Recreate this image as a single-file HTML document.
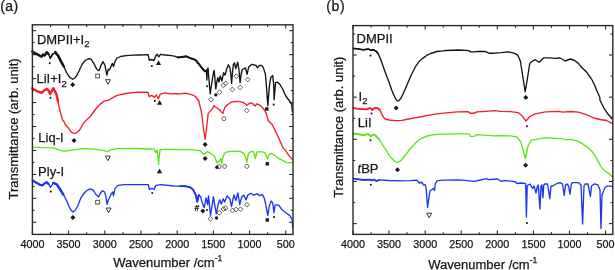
<!DOCTYPE html><html><head><meta charset="utf-8"><style>
html,body{margin:0;padding:0;background:#fff;width:615px;height:270px;overflow:hidden}
svg{display:block;will-change:transform}
text{font-family:"Liberation Sans",sans-serif;fill:#161616;stroke:#161616;stroke-width:0.25px}
</style></head><body>
<svg width="615" height="270" viewBox="0 0 615 270">
<line x1="285.76" y1="234.40" x2="285.76" y2="230.60" stroke="#2a2a2a" stroke-width="1.1"/>
<line x1="285.76" y1="24.80" x2="285.76" y2="28.60" stroke="#2a2a2a" stroke-width="1.1"/>
<line x1="267.66" y1="234.40" x2="267.66" y2="232.20" stroke="#2a2a2a" stroke-width="1.1"/>
<line x1="267.66" y1="24.80" x2="267.66" y2="27.00" stroke="#2a2a2a" stroke-width="1.1"/>
<line x1="249.57" y1="234.40" x2="249.57" y2="230.60" stroke="#2a2a2a" stroke-width="1.1"/>
<line x1="249.57" y1="24.80" x2="249.57" y2="28.60" stroke="#2a2a2a" stroke-width="1.1"/>
<line x1="231.47" y1="234.40" x2="231.47" y2="232.20" stroke="#2a2a2a" stroke-width="1.1"/>
<line x1="231.47" y1="24.80" x2="231.47" y2="27.00" stroke="#2a2a2a" stroke-width="1.1"/>
<line x1="213.37" y1="234.40" x2="213.37" y2="230.60" stroke="#2a2a2a" stroke-width="1.1"/>
<line x1="213.37" y1="24.80" x2="213.37" y2="28.60" stroke="#2a2a2a" stroke-width="1.1"/>
<line x1="195.28" y1="234.40" x2="195.28" y2="232.20" stroke="#2a2a2a" stroke-width="1.1"/>
<line x1="195.28" y1="24.80" x2="195.28" y2="27.00" stroke="#2a2a2a" stroke-width="1.1"/>
<line x1="177.18" y1="234.40" x2="177.18" y2="230.60" stroke="#2a2a2a" stroke-width="1.1"/>
<line x1="177.18" y1="24.80" x2="177.18" y2="28.60" stroke="#2a2a2a" stroke-width="1.1"/>
<line x1="159.08" y1="234.40" x2="159.08" y2="232.20" stroke="#2a2a2a" stroke-width="1.1"/>
<line x1="159.08" y1="24.80" x2="159.08" y2="27.00" stroke="#2a2a2a" stroke-width="1.1"/>
<line x1="140.98" y1="234.40" x2="140.98" y2="230.60" stroke="#2a2a2a" stroke-width="1.1"/>
<line x1="140.98" y1="24.80" x2="140.98" y2="28.60" stroke="#2a2a2a" stroke-width="1.1"/>
<line x1="122.89" y1="234.40" x2="122.89" y2="232.20" stroke="#2a2a2a" stroke-width="1.1"/>
<line x1="122.89" y1="24.80" x2="122.89" y2="27.00" stroke="#2a2a2a" stroke-width="1.1"/>
<line x1="104.79" y1="234.40" x2="104.79" y2="230.60" stroke="#2a2a2a" stroke-width="1.1"/>
<line x1="104.79" y1="24.80" x2="104.79" y2="28.60" stroke="#2a2a2a" stroke-width="1.1"/>
<line x1="86.69" y1="234.40" x2="86.69" y2="232.20" stroke="#2a2a2a" stroke-width="1.1"/>
<line x1="86.69" y1="24.80" x2="86.69" y2="27.00" stroke="#2a2a2a" stroke-width="1.1"/>
<line x1="68.59" y1="234.40" x2="68.59" y2="230.60" stroke="#2a2a2a" stroke-width="1.1"/>
<line x1="68.59" y1="24.80" x2="68.59" y2="28.60" stroke="#2a2a2a" stroke-width="1.1"/>
<line x1="50.50" y1="234.40" x2="50.50" y2="232.20" stroke="#2a2a2a" stroke-width="1.1"/>
<line x1="50.50" y1="24.80" x2="50.50" y2="27.00" stroke="#2a2a2a" stroke-width="1.1"/>
<line x1="32.40" y1="234.40" x2="32.40" y2="230.60" stroke="#2a2a2a" stroke-width="1.1"/>
<line x1="32.40" y1="24.80" x2="32.40" y2="28.60" stroke="#2a2a2a" stroke-width="1.1"/>
<line x1="32.40" y1="30.70" x2="36.20" y2="30.70" stroke="#2a2a2a" stroke-width="1.1"/>
<line x1="293.00" y1="30.70" x2="289.20" y2="30.70" stroke="#2a2a2a" stroke-width="1.1"/>
<line x1="32.40" y1="54.65" x2="36.20" y2="54.65" stroke="#2a2a2a" stroke-width="1.1"/>
<line x1="293.00" y1="54.65" x2="289.20" y2="54.65" stroke="#2a2a2a" stroke-width="1.1"/>
<line x1="32.40" y1="78.60" x2="36.20" y2="78.60" stroke="#2a2a2a" stroke-width="1.1"/>
<line x1="293.00" y1="78.60" x2="289.20" y2="78.60" stroke="#2a2a2a" stroke-width="1.1"/>
<line x1="32.40" y1="102.55" x2="36.20" y2="102.55" stroke="#2a2a2a" stroke-width="1.1"/>
<line x1="293.00" y1="102.55" x2="289.20" y2="102.55" stroke="#2a2a2a" stroke-width="1.1"/>
<line x1="32.40" y1="126.50" x2="36.20" y2="126.50" stroke="#2a2a2a" stroke-width="1.1"/>
<line x1="293.00" y1="126.50" x2="289.20" y2="126.50" stroke="#2a2a2a" stroke-width="1.1"/>
<line x1="32.40" y1="150.45" x2="36.20" y2="150.45" stroke="#2a2a2a" stroke-width="1.1"/>
<line x1="293.00" y1="150.45" x2="289.20" y2="150.45" stroke="#2a2a2a" stroke-width="1.1"/>
<line x1="32.40" y1="174.40" x2="36.20" y2="174.40" stroke="#2a2a2a" stroke-width="1.1"/>
<line x1="293.00" y1="174.40" x2="289.20" y2="174.40" stroke="#2a2a2a" stroke-width="1.1"/>
<line x1="32.40" y1="198.35" x2="36.20" y2="198.35" stroke="#2a2a2a" stroke-width="1.1"/>
<line x1="293.00" y1="198.35" x2="289.20" y2="198.35" stroke="#2a2a2a" stroke-width="1.1"/>
<line x1="32.40" y1="222.30" x2="36.20" y2="222.30" stroke="#2a2a2a" stroke-width="1.1"/>
<line x1="293.00" y1="222.30" x2="289.20" y2="222.30" stroke="#2a2a2a" stroke-width="1.1"/>
<line x1="32.40" y1="42.67" x2="34.60" y2="42.67" stroke="#2a2a2a" stroke-width="1.1"/>
<line x1="293.00" y1="42.67" x2="290.80" y2="42.67" stroke="#2a2a2a" stroke-width="1.1"/>
<line x1="32.40" y1="66.62" x2="34.60" y2="66.62" stroke="#2a2a2a" stroke-width="1.1"/>
<line x1="293.00" y1="66.62" x2="290.80" y2="66.62" stroke="#2a2a2a" stroke-width="1.1"/>
<line x1="32.40" y1="90.57" x2="34.60" y2="90.57" stroke="#2a2a2a" stroke-width="1.1"/>
<line x1="293.00" y1="90.57" x2="290.80" y2="90.57" stroke="#2a2a2a" stroke-width="1.1"/>
<line x1="32.40" y1="114.52" x2="34.60" y2="114.52" stroke="#2a2a2a" stroke-width="1.1"/>
<line x1="293.00" y1="114.52" x2="290.80" y2="114.52" stroke="#2a2a2a" stroke-width="1.1"/>
<line x1="32.40" y1="138.47" x2="34.60" y2="138.47" stroke="#2a2a2a" stroke-width="1.1"/>
<line x1="293.00" y1="138.47" x2="290.80" y2="138.47" stroke="#2a2a2a" stroke-width="1.1"/>
<line x1="32.40" y1="162.43" x2="34.60" y2="162.43" stroke="#2a2a2a" stroke-width="1.1"/>
<line x1="293.00" y1="162.43" x2="290.80" y2="162.43" stroke="#2a2a2a" stroke-width="1.1"/>
<line x1="32.40" y1="186.38" x2="34.60" y2="186.38" stroke="#2a2a2a" stroke-width="1.1"/>
<line x1="293.00" y1="186.38" x2="290.80" y2="186.38" stroke="#2a2a2a" stroke-width="1.1"/>
<line x1="32.40" y1="210.32" x2="34.60" y2="210.32" stroke="#2a2a2a" stroke-width="1.1"/>
<line x1="293.00" y1="210.32" x2="290.80" y2="210.32" stroke="#2a2a2a" stroke-width="1.1"/>
<line x1="605.58" y1="234.40" x2="605.58" y2="230.60" stroke="#2a2a2a" stroke-width="1.1"/>
<line x1="605.58" y1="25.60" x2="605.58" y2="29.40" stroke="#2a2a2a" stroke-width="1.1"/>
<line x1="587.54" y1="234.40" x2="587.54" y2="232.20" stroke="#2a2a2a" stroke-width="1.1"/>
<line x1="587.54" y1="25.60" x2="587.54" y2="27.80" stroke="#2a2a2a" stroke-width="1.1"/>
<line x1="569.50" y1="234.40" x2="569.50" y2="230.60" stroke="#2a2a2a" stroke-width="1.1"/>
<line x1="569.50" y1="25.60" x2="569.50" y2="29.40" stroke="#2a2a2a" stroke-width="1.1"/>
<line x1="551.46" y1="234.40" x2="551.46" y2="232.20" stroke="#2a2a2a" stroke-width="1.1"/>
<line x1="551.46" y1="25.60" x2="551.46" y2="27.80" stroke="#2a2a2a" stroke-width="1.1"/>
<line x1="533.42" y1="234.40" x2="533.42" y2="230.60" stroke="#2a2a2a" stroke-width="1.1"/>
<line x1="533.42" y1="25.60" x2="533.42" y2="29.40" stroke="#2a2a2a" stroke-width="1.1"/>
<line x1="515.38" y1="234.40" x2="515.38" y2="232.20" stroke="#2a2a2a" stroke-width="1.1"/>
<line x1="515.38" y1="25.60" x2="515.38" y2="27.80" stroke="#2a2a2a" stroke-width="1.1"/>
<line x1="497.33" y1="234.40" x2="497.33" y2="230.60" stroke="#2a2a2a" stroke-width="1.1"/>
<line x1="497.33" y1="25.60" x2="497.33" y2="29.40" stroke="#2a2a2a" stroke-width="1.1"/>
<line x1="479.29" y1="234.40" x2="479.29" y2="232.20" stroke="#2a2a2a" stroke-width="1.1"/>
<line x1="479.29" y1="25.60" x2="479.29" y2="27.80" stroke="#2a2a2a" stroke-width="1.1"/>
<line x1="461.25" y1="234.40" x2="461.25" y2="230.60" stroke="#2a2a2a" stroke-width="1.1"/>
<line x1="461.25" y1="25.60" x2="461.25" y2="29.40" stroke="#2a2a2a" stroke-width="1.1"/>
<line x1="443.21" y1="234.40" x2="443.21" y2="232.20" stroke="#2a2a2a" stroke-width="1.1"/>
<line x1="443.21" y1="25.60" x2="443.21" y2="27.80" stroke="#2a2a2a" stroke-width="1.1"/>
<line x1="425.17" y1="234.40" x2="425.17" y2="230.60" stroke="#2a2a2a" stroke-width="1.1"/>
<line x1="425.17" y1="25.60" x2="425.17" y2="29.40" stroke="#2a2a2a" stroke-width="1.1"/>
<line x1="407.12" y1="234.40" x2="407.12" y2="232.20" stroke="#2a2a2a" stroke-width="1.1"/>
<line x1="407.12" y1="25.60" x2="407.12" y2="27.80" stroke="#2a2a2a" stroke-width="1.1"/>
<line x1="389.08" y1="234.40" x2="389.08" y2="230.60" stroke="#2a2a2a" stroke-width="1.1"/>
<line x1="389.08" y1="25.60" x2="389.08" y2="29.40" stroke="#2a2a2a" stroke-width="1.1"/>
<line x1="371.04" y1="234.40" x2="371.04" y2="232.20" stroke="#2a2a2a" stroke-width="1.1"/>
<line x1="371.04" y1="25.60" x2="371.04" y2="27.80" stroke="#2a2a2a" stroke-width="1.1"/>
<line x1="353.00" y1="234.40" x2="353.00" y2="230.60" stroke="#2a2a2a" stroke-width="1.1"/>
<line x1="353.00" y1="25.60" x2="353.00" y2="29.40" stroke="#2a2a2a" stroke-width="1.1"/>
<line x1="353.00" y1="55.00" x2="356.80" y2="55.00" stroke="#2a2a2a" stroke-width="1.1"/>
<line x1="612.80" y1="55.00" x2="609.00" y2="55.00" stroke="#2a2a2a" stroke-width="1.1"/>
<line x1="353.00" y1="97.15" x2="356.80" y2="97.15" stroke="#2a2a2a" stroke-width="1.1"/>
<line x1="612.80" y1="97.15" x2="609.00" y2="97.15" stroke="#2a2a2a" stroke-width="1.1"/>
<line x1="353.00" y1="139.30" x2="356.80" y2="139.30" stroke="#2a2a2a" stroke-width="1.1"/>
<line x1="612.80" y1="139.30" x2="609.00" y2="139.30" stroke="#2a2a2a" stroke-width="1.1"/>
<line x1="353.00" y1="181.45" x2="356.80" y2="181.45" stroke="#2a2a2a" stroke-width="1.1"/>
<line x1="612.80" y1="181.45" x2="609.00" y2="181.45" stroke="#2a2a2a" stroke-width="1.1"/>
<line x1="353.00" y1="223.60" x2="356.80" y2="223.60" stroke="#2a2a2a" stroke-width="1.1"/>
<line x1="612.80" y1="223.60" x2="609.00" y2="223.60" stroke="#2a2a2a" stroke-width="1.1"/>
<line x1="353.00" y1="34.00" x2="355.20" y2="34.00" stroke="#2a2a2a" stroke-width="1.1"/>
<line x1="612.80" y1="34.00" x2="610.60" y2="34.00" stroke="#2a2a2a" stroke-width="1.1"/>
<line x1="353.00" y1="76.15" x2="355.20" y2="76.15" stroke="#2a2a2a" stroke-width="1.1"/>
<line x1="612.80" y1="76.15" x2="610.60" y2="76.15" stroke="#2a2a2a" stroke-width="1.1"/>
<line x1="353.00" y1="118.30" x2="355.20" y2="118.30" stroke="#2a2a2a" stroke-width="1.1"/>
<line x1="612.80" y1="118.30" x2="610.60" y2="118.30" stroke="#2a2a2a" stroke-width="1.1"/>
<line x1="353.00" y1="160.45" x2="355.20" y2="160.45" stroke="#2a2a2a" stroke-width="1.1"/>
<line x1="612.80" y1="160.45" x2="610.60" y2="160.45" stroke="#2a2a2a" stroke-width="1.1"/>
<line x1="353.00" y1="202.60" x2="355.20" y2="202.60" stroke="#2a2a2a" stroke-width="1.1"/>
<line x1="612.80" y1="202.60" x2="610.60" y2="202.60" stroke="#2a2a2a" stroke-width="1.1"/>
<path d="M32.30,51.50 L35.20,53.50 L37.00,54.00 L39.10,55.40 L41.70,56.70 L43.00,54.50 L44.50,55.50 L46.90,52.20 L48.50,54.00 L50.20,58.00 L52.80,54.10 L55.40,52.20 L56.50,54.00 L58.00,55.40 L60.60,60.60 L63.80,66.50 L66.40,72.30 L68.50,75.50 L70.30,77.80 L72.70,79.30 L74.80,78.00 L76.80,75.50 L79.00,71.00 L82.00,64.50 L84.00,61.80 L85.90,60.00 L88.00,59.00 L89.80,58.70 L91.10,59.30 L93.70,63.20 L96.30,68.40 L98.00,70.40 L99.10,70.60 L101.00,65.40 L103.00,61.50 L104.90,65.40 L106.90,75.10 L108.20,69.30 L109.50,69.90 L111.40,65.40 L112.40,63.40 L113.50,66.50 L114.80,62.00 L116.90,58.20 L118.50,57.50 L120.80,56.30 L123.70,56.00 L126.00,55.60 L132.50,55.20 L139.00,55.00 L148.10,54.70 L149.20,60.20 L151.40,59.50 L154.00,60.50 L155.90,55.60 L157.20,54.30 L158.80,56.90 L160.50,54.30 L165.00,55.00 L171.50,55.60 L175.20,56.30 L177.80,57.40 L181.70,57.00 L186.30,56.30 L190.80,58.30 L194.70,59.60 L196.00,60.50 L198.00,62.80 L200.00,65.50 L203.10,69.50 L204.80,71.20 L206.30,70.00 L206.90,80.00 L207.40,70.00 L208.00,67.90 L209.00,80.00 L210.20,94.00 L211.00,88.00 L212.10,81.00 L213.20,74.00 L214.20,70.40 L215.00,80.00 L215.80,89.00 L216.80,82.00 L217.80,77.70 L219.00,82.00 L220.20,76.00 L221.90,81.00 L223.50,72.80 L225.00,75.00 L226.80,68.70 L228.40,64.70 L230.00,68.00 L231.00,76.00 L231.60,83.40 L232.50,72.00 L233.30,64.70 L234.60,63.00 L235.70,68.70 L237.70,62.20 L239.00,70.00 L240.10,82.60 L241.20,74.00 L242.20,69.50 L245.50,67.90 L247.10,74.40 L248.70,67.10 L252.00,64.30 L256.10,65.50 L257.40,67.90 L259.30,65.50 L261.80,65.50 L263.40,67.90 L265.40,74.40 L266.30,84.60 L267.80,105.60 L269.30,86.60 L270.70,77.80 L272.70,75.40 L273.70,84.60 L274.10,99.80 L275.60,82.70 L277.60,82.20 L280.00,84.60 L282.90,89.50 L283.90,92.00 L285.90,96.00 L287.80,98.80 L290.00,101.50 L291.70,104.60 L292.50,112.00" fill="none" stroke="#141414" stroke-width="1.35" stroke-linejoin="round" stroke-linecap="round"/>
<path d="M32.30,51.50 L35.20,53.50 L37.00,54.00 L39.10,55.40 L41.70,56.70 L43.00,54.50 L44.50,55.50 L46.90,52.20 L48.50,54.00" fill="none" stroke="#141414" stroke-width="2.4" stroke-linejoin="round" stroke-linecap="round"/>
<path d="M50.20,58.00 L52.80,54.10" fill="none" stroke="#141414" stroke-width="1.8" stroke-linejoin="round" stroke-linecap="round"/>
<path d="M55.40,52.20 L56.50,54.00 L58.00,55.40 L60.60,60.60 L63.80,66.50" fill="none" stroke="#141414" stroke-width="2.6" stroke-linejoin="round" stroke-linecap="round"/>
<path d="M177.80,57.40 L181.70,57.00 L186.30,56.30 L190.80,58.30 L194.70,59.60 L196.00,60.50 L198.00,62.80 L200.00,65.50 L203.10,69.50 L204.80,71.20" fill="none" stroke="#141414" stroke-width="2.0" stroke-linejoin="round" stroke-linecap="round"/>
<path d="M32.30,88.20 L34.00,89.50 L36.50,90.80 L39.00,92.00 L41.70,92.80 L44.00,90.50 L46.90,88.90 L48.50,90.50 L50.20,94.00 L53.40,88.20 L56.00,93.40 L56.70,95.00 L58.00,101.50 L59.90,110.60 L62.50,119.70 L63.80,121.30 L65.10,124.30 L67.70,127.20 L69.50,129.60 L71.60,132.40 L73.50,133.20 L74.90,133.30 L77.00,132.30 L79.40,130.40 L81.00,127.50 L82.50,124.70 L85.90,120.40 L87.20,119.50 L89.80,117.10 L92.50,113.50 L95.00,110.00 L97.50,107.00 L100.20,104.10 L103.90,101.20 L105.40,100.80 L108.90,100.20 L112.80,97.60 L117.20,95.30 L125.80,93.50 L137.50,92.20 L147.90,92.20 L149.20,96.70 L151.80,95.40 L154.40,97.40 L156.40,94.80 L158.30,98.70 L160.30,94.10 L165.50,92.80 L170.00,93.90 L177.80,93.60 L180.00,93.90 L185.90,93.20 L191.70,94.60 L194.60,96.00 L196.60,97.60 L197.60,99.90 L198.40,99.70 L199.50,104.00 L201.30,111.40 L202.50,120.00 L203.60,129.60 L205.20,139.50 L206.50,128.00 L207.50,120.00 L208.20,113.40 L210.10,111.40 L212.20,109.00 L214.00,105.60 L215.50,107.00 L217.90,108.50 L220.00,110.50 L222.80,113.40 L224.80,107.50 L227.80,104.50 L230.70,102.50 L233.50,101.70 L236.60,101.50 L240.00,101.60 L243.30,102.60 L247.20,105.30 L250.10,102.80 L252.50,103.50 L255.00,106.00 L257.00,103.80 L261.00,105.80 L264.40,110.00 L266.30,113.90 L268.30,120.70 L272.20,124.60 L275.10,130.50 L277.60,135.50 L279.00,138.80 L282.90,147.60 L285.90,151.00 L288.80,155.40 L292.50,159.60" fill="none" stroke="#f81c26" stroke-width="1.35" stroke-linejoin="round" stroke-linecap="round"/>
<path d="M32.30,88.20 L34.00,89.50 L36.50,90.80 L39.00,92.00 L41.70,92.80 L44.00,90.50 L46.90,88.90 L48.50,90.50 L50.20,94.00 L53.40,88.20 L56.00,93.40 L56.70,95.00 L58.00,101.50" fill="none" stroke="#f81c26" stroke-width="2.4" stroke-linejoin="round" stroke-linecap="round"/>
<path d="M32.60,147.10 L43.00,147.60 L53.40,147.80 L57.30,149.30 L60.00,150.30 L63.80,151.00 L67.00,150.80 L71.60,150.20 L75.50,149.60 L82.00,148.60 L88.50,148.90 L95.00,149.20 L97.60,149.60 L101.00,150.20 L104.10,150.40 L105.80,151.20 L107.60,151.60 L109.30,150.60 L111.30,149.60 L117.20,148.60 L132.50,148.50 L152.00,149.00 L154.20,149.20 L155.70,152.60 L157.10,150.40 L158.00,156.00 L158.60,164.40 L159.30,156.00 L160.10,149.60 L165.00,149.30 L170.00,149.40 L177.80,149.50 L185.00,149.60 L189.50,149.70 L199.90,150.60 L203.80,154.50 L207.70,151.60 L210.30,153.20 L214.20,155.80 L215.50,159.00 L217.20,163.10 L219.40,161.00 L220.80,158.50 L221.60,163.80 L222.60,158.00 L224.60,153.20 L227.00,152.00 L231.10,151.30 L240.00,151.30 L243.90,153.30 L245.50,157.00 L246.80,162.30 L248.00,156.00 L248.80,152.80 L251.70,151.30 L253.70,151.80 L254.60,155.00 L255.40,158.70 L256.30,154.50 L257.10,151.80 L261.50,151.80 L264.40,152.30 L266.00,155.00 L267.60,159.10 L269.30,154.30 L271.20,153.30 L275.10,155.70 L279.00,158.70 L282.90,160.60 L286.80,162.60 L292.50,162.60" fill="none" stroke="#5ee414" stroke-width="1.35" stroke-linejoin="round" stroke-linecap="round"/>
<path d="M32.60,180.50 L35.00,182.00 L37.80,183.50 L40.00,184.70 L42.40,185.40 L44.50,183.50 L46.90,182.20 L48.50,184.00 L50.50,187.40 L53.40,182.90 L55.00,183.60 L56.70,184.30 L59.90,189.00 L63.50,194.80 L66.20,199.80 L67.70,203.00 L69.00,206.50 L71.00,210.00 L72.90,212.00 L75.00,210.50 L77.50,206.50 L80.00,200.00 L80.70,198.40 L83.00,194.70 L85.90,191.30 L88.50,189.50 L91.10,189.00 L93.70,190.60 L95.50,194.00 L98.70,196.90 L100.50,193.00 L102.40,190.60 L104.60,192.00 L105.80,196.00 L107.10,204.30 L108.30,200.00 L109.80,197.20 L111.20,194.00 L112.80,192.00 L113.50,195.80 L115.00,188.40 L117.90,185.40 L124.60,184.70 L148.30,184.60 L149.40,189.50 L152.00,188.40 L154.20,189.50 L155.70,185.40 L161.60,184.70 L173.40,186.00 L180.00,186.10 L185.60,186.20 L190.80,187.60 L192.90,189.50 L195.40,193.90 L197.30,201.70 L198.80,194.90 L200.70,196.80 L202.20,202.70 L204.10,207.60 L206.10,197.80 L207.60,204.60 L208.50,195.90 L210.50,215.50 L213.40,196.80 L214.90,205.60 L216.30,213.90 L218.30,203.70 L219.80,199.80 L221.20,204.00 L223.20,198.80 L224.60,202.00 L227.10,195.90 L230.00,199.00 L231.50,206.60 L233.90,194.90 L235.90,200.50 L237.80,192.90 L239.80,204.60 L240.80,200.00 L242.00,196.60 L243.90,195.10 L246.00,200.00 L247.80,195.10 L250.70,193.20 L253.70,195.10 L257.10,193.70 L259.50,195.60 L262.40,194.60 L264.40,198.50 L265.90,205.40 L267.80,215.60 L269.30,205.90 L271.20,201.00 L272.70,203.00 L274.00,212.70 L275.10,204.90 L277.10,204.90 L279.00,205.40 L282.00,209.80 L285.90,212.70 L289.80,215.60 L292.20,219.50 L292.70,227.70" fill="none" stroke="#1c36f5" stroke-width="1.35" stroke-linejoin="round" stroke-linecap="round"/>
<path d="M32.60,180.50 L35.00,182.00 L37.80,183.50 L40.00,184.70 L42.40,185.40 L44.50,183.50 L46.90,182.20 L48.50,184.00" fill="none" stroke="#1c36f5" stroke-width="2.2" stroke-linejoin="round" stroke-linecap="round"/>
<path d="M53.40,182.90 L55.00,183.60 L56.70,184.30 L59.90,189.00 L63.50,194.80" fill="none" stroke="#1c36f5" stroke-width="2.4" stroke-linejoin="round" stroke-linecap="round"/>
<path d="M180.00,186.10 L185.60,186.20 L190.80,187.60 L192.90,189.50 L195.40,193.90 L197.30,201.70 L198.80,194.90" fill="none" stroke="#1c36f5" stroke-width="1.9" stroke-linejoin="round" stroke-linecap="round"/>
<path d="M353.30,48.50 L357.80,48.80 L363.00,49.80 L368.20,49.10 L370.80,50.10 L373.40,49.80 L376.00,51.10 L378.00,53.50 L380.20,58.10 L383.00,66.00 L386.70,76.30 L389.50,83.50 L391.90,90.50 L394.00,95.50 L396.00,99.50 L397.50,100.90 L399.00,100.60 L400.90,98.30 L403.50,93.00 L407.40,84.00 L411.00,75.50 L415.20,67.20 L419.00,61.50 L423.00,58.10 L427.00,55.20 L430.70,53.50 L436.90,51.50 L442.90,50.90 L446.00,50.50 L459.00,50.00 L468.80,50.60 L470.70,51.90 L474.60,51.90 L477.20,51.50 L485.00,51.30 L488.90,53.20 L494.10,53.20 L501.50,52.60 L508.00,51.90 L513.20,52.90 L517.80,55.20 L520.40,61.00 L521.00,65.00 L523.00,78.00 L525.20,91.70 L527.50,78.00 L529.50,65.00 L530.00,63.00 L532.70,61.00 L535.30,59.70 L539.20,62.30 L543.80,57.80 L549.60,57.80 L554.80,58.40 L559.90,58.00 L562.80,59.50 L565.20,61.00 L567.70,60.00 L570.60,59.00 L574.50,60.50 L578.40,63.40 L580.40,65.90 L586.20,71.70 L591.10,78.50 L592.10,80.00 L595.00,86.00 L596.00,88.80 L599.90,97.60 L599.90,100.00 L603.80,107.80 L607.70,113.70 L612.10,118.50" fill="none" stroke="#141414" stroke-width="1.35" stroke-linejoin="round" stroke-linecap="round"/>
<path d="M353.30,48.50 L357.80,48.80 L363.00,49.80 L368.20,49.10 L370.80,50.10 L373.40,49.80 L376.00,51.10 L378.00,53.50" fill="none" stroke="#141414" stroke-width="1.6" stroke-linejoin="round" stroke-linecap="round"/>
<path d="M353.30,108.00 L357.00,108.70 L360.40,109.00 L366.90,109.30 L370.20,108.00 L372.10,110.00 L374.70,108.00 L377.30,108.00 L379.90,110.00 L382.50,115.80 L385.10,119.00 L389.00,120.00 L395.50,120.70 L402.00,120.40 L408.50,119.00 L415.00,117.80 L422.80,116.50 L425.00,115.80 L435.40,114.20 L445.80,112.90 L457.50,111.90 L467.90,111.60 L470.30,113.20 L474.40,113.20 L477.00,111.90 L486.10,111.30 L495.20,110.60 L500.00,111.30 L510.40,111.60 L518.20,112.60 L522.10,115.80 L526.00,121.00 L529.90,116.50 L535.10,113.90 L545.50,111.90 L558.50,111.30 L562.80,112.20 L570.60,111.50 L578.40,112.20 L586.20,114.60 L594.00,118.00 L599.90,119.50 L606.70,120.50 L612.10,123.40" fill="none" stroke="#f81c26" stroke-width="1.35" stroke-linejoin="round" stroke-linecap="round"/>
<path d="M353.30,108.00 L357.00,108.70 L360.40,109.00 L366.90,109.30 L370.20,108.00 L372.10,110.00 L374.70,108.00 L377.30,108.00 L379.90,110.00" fill="none" stroke="#f81c26" stroke-width="1.7" stroke-linejoin="round" stroke-linecap="round"/>
<path d="M353.30,133.50 L357.80,134.10 L363.00,135.10 L368.20,134.10 L370.80,136.10 L373.40,134.50 L375.20,135.20 L378.90,138.90 L382.00,144.00 L385.40,149.10 L390.00,156.50 L393.00,159.80 L395.00,161.50 L397.00,162.50 L399.50,161.70 L401.50,160.00 L404.50,156.00 L406.70,153.70 L410.00,149.00 L414.10,144.40 L417.50,141.00 L421.50,138.30 L426.00,136.50 L430.80,135.20 L437.00,134.40 L451.00,133.90 L469.20,133.90 L470.50,136.30 L474.40,136.30 L477.00,134.60 L487.40,135.30 L493.90,135.90 L500.00,135.60 L510.40,135.90 L516.90,136.90 L520.80,142.10 L523.40,151.20 L525.40,158.70 L528.00,146.00 L531.20,140.20 L539.00,138.90 L545.50,137.60 L555.00,138.30 L561.80,138.60 L565.70,139.80 L570.60,139.30 L576.50,140.70 L582.30,143.70 L588.20,147.60 L592.10,151.50 L595.00,155.90 L597.90,160.70 L600.90,166.60 L604.80,171.00 L608.70,173.40 L612.10,176.50" fill="none" stroke="#5ee414" stroke-width="1.35" stroke-linejoin="round" stroke-linecap="round"/>
<path d="M353.30,133.50 L357.80,134.10 L363.00,135.10 L368.20,134.10 L370.80,136.10 L373.40,134.50 L375.20,135.20 L378.90,138.90" fill="none" stroke="#5ee414" stroke-width="1.7" stroke-linejoin="round" stroke-linecap="round"/>
<path d="M353.30,178.60 L363.00,179.90 L369.50,179.60 L372.10,180.50 L374.10,179.60 L376.70,181.20 L378.60,179.90 L389.00,180.50 L402.00,180.90 L410.00,180.70 L416.80,180.20 L418.80,182.20 L419.80,183.20 L421.70,182.20 L423.70,185.10 L425.10,184.60 L426.10,188.00 L427.60,207.50 L429.30,195.00 L430.00,191.00 L432.00,189.50 L433.40,188.50 L434.40,190.50 L435.40,183.70 L437.30,180.70 L444.10,180.20 L458.80,179.80 L465.00,180.30 L474.10,181.30 L480.60,180.00 L486.50,178.70 L488.40,179.60 L497.50,179.00 L501.40,181.30 L504.00,180.60 L513.10,181.30 L515.70,182.00 L517.00,183.50 L520.90,183.00 L524.80,183.30 L525.70,183.80 L526.40,217.10 L527.20,186.00 L528.00,185.00 L530.00,184.00 L532.60,188.40 L534.00,186.00 L536.00,193.00 L537.20,187.00 L538.30,185.00 L539.90,209.00 L541.00,186.00 L542.00,185.00 L542.90,197.60 L543.80,185.00 L545.20,183.80 L547.50,184.00 L549.80,198.70 L551.00,186.00 L553.00,186.00 L554.40,185.00 L557.00,183.50 L560.10,182.60 L562.50,184.00 L564.20,195.30 L565.50,185.00 L567.00,184.00 L568.50,186.00 L570.00,194.10 L571.30,184.00 L572.70,182.60 L578.50,182.60 L581.00,185.00 L582.60,224.00 L584.00,186.00 L585.40,183.80 L588.00,184.00 L590.40,196.40 L591.50,186.00 L594.60,183.80 L598.00,184.90 L600.00,190.00 L601.00,228.60 L602.00,195.00 L603.70,190.70 L605.50,187.00 L607.20,186.10 L611.80,186.10 L612.30,187.00" fill="none" stroke="#1c36f5" stroke-width="1.35" stroke-linejoin="round" stroke-linecap="round"/>
<path d="M353.30,178.60 L363.00,179.90 L369.50,179.60 L372.10,180.50 L374.10,179.60 L376.70,181.20 L378.60,179.90" fill="none" stroke="#1c36f5" stroke-width="1.6" stroke-linejoin="round" stroke-linecap="round"/>
<rect x="32.4" y="24.8" width="260.60" height="209.60" fill="none" stroke="#2a2a2a" stroke-width="1.4"/>
<rect x="353.0" y="25.6" width="259.80" height="208.80" fill="none" stroke="#2a2a2a" stroke-width="1.4"/>
<text x="32.40" y="247.8" font-size="10.8" text-anchor="middle" >4000</text>
<text x="68.59" y="247.8" font-size="10.8" text-anchor="middle" >3500</text>
<text x="104.79" y="247.8" font-size="10.8" text-anchor="middle" >3000</text>
<text x="140.98" y="247.8" font-size="10.8" text-anchor="middle" >2500</text>
<text x="177.18" y="247.8" font-size="10.8" text-anchor="middle" >2000</text>
<text x="213.37" y="247.8" font-size="10.8" text-anchor="middle" >1500</text>
<text x="249.57" y="247.8" font-size="10.8" text-anchor="middle" >1000</text>
<text x="285.76" y="247.8" font-size="10.8" text-anchor="middle" >500</text>
<text x="353.00" y="247.8" font-size="10.8" text-anchor="middle" >4000</text>
<text x="389.08" y="247.8" font-size="10.8" text-anchor="middle" >3500</text>
<text x="425.17" y="247.8" font-size="10.8" text-anchor="middle" >3000</text>
<text x="461.25" y="247.8" font-size="10.8" text-anchor="middle" >2500</text>
<text x="497.33" y="247.8" font-size="10.8" text-anchor="middle" >2000</text>
<text x="533.42" y="247.8" font-size="10.8" text-anchor="middle" >1500</text>
<text x="569.50" y="247.8" font-size="10.8" text-anchor="middle" >1000</text>
<text x="605.58" y="247.8" font-size="10.8" text-anchor="middle" >500</text>
<text x="113.3" y="267.2" font-size="13" text-anchor="start" >Wavenumber /cm<tspan dy="-6" font-size="8.5">-1</tspan></text>
<text x="428.3" y="268.6" font-size="13" text-anchor="start" >Wavenumber /cm<tspan dy="-6" font-size="8.5">-1</tspan></text>
<text transform="translate(18.4,128.9) rotate(-90)" font-size="13" text-anchor="middle">Transmittance (arb. unit)</text>
<text transform="translate(343.0,127.3) rotate(-90)" font-size="13" text-anchor="middle">Transmittance (arb. unit)</text>
<text x="0.2" y="11.2" font-size="14" text-anchor="start" letter-spacing="0.4">(a)</text>
<text x="326.3" y="11.2" font-size="14" text-anchor="start" letter-spacing="0.6">(b)</text>
<text x="36.9" y="43.7" font-size="13" text-anchor="start" >DMPII+I<tspan dy="3.5" font-size="9.5">2</tspan></text>
<text x="36.5" y="83.2" font-size="13" text-anchor="start" >LiI+I<tspan dy="3.5" font-size="9.5">2</tspan></text>
<text x="38.3" y="141.5" font-size="13" text-anchor="start" >Liq-I</text>
<text x="38.1" y="176.4" font-size="13" text-anchor="start" >Ply-I</text>
<text x="356.5" y="43.2" font-size="13" text-anchor="start" >DMPII</text>
<text x="358.5" y="100.6" font-size="13" text-anchor="start" >I<tspan dy="3.5" font-size="9.5">2</tspan></text>
<text x="357.8" y="126.9" font-size="13" text-anchor="start" >LiI</text>
<text x="357.5" y="172.8" font-size="13" text-anchor="start" ><tspan font-style="italic">t</tspan>BP</text>
<circle cx="49.8" cy="63.2" r="1.05" fill="#1a1a1a"/>
<circle cx="50.5" cy="97.7" r="1.05" fill="#1a1a1a"/>
<circle cx="50.8" cy="191.6" r="1.05" fill="#1a1a1a"/>
<circle cx="151.8" cy="66" r="1.05" fill="#1a1a1a"/>
<circle cx="154.8" cy="100.9" r="1.05" fill="#1a1a1a"/>
<circle cx="152.2" cy="193" r="1.05" fill="#1a1a1a"/>
<circle cx="207.1" cy="86.2" r="1.05" fill="#1a1a1a"/>
<circle cx="273.7" cy="104.6" r="1.05" fill="#1a1a1a"/>
<circle cx="274.1" cy="217.1" r="1.05" fill="#1a1a1a"/>
<circle cx="207" cy="210" r="1.05" fill="#1a1a1a"/>
<circle cx="370.5" cy="55.6" r="1.05" fill="#1a1a1a"/>
<circle cx="371.5" cy="113.5" r="1.05" fill="#1a1a1a"/>
<circle cx="370.5" cy="140.3" r="1.05" fill="#1a1a1a"/>
<circle cx="370.8" cy="184.8" r="1.05" fill="#1a1a1a"/>
<circle cx="526.9" cy="126.2" r="1.05" fill="#1a1a1a"/>
<circle cx="527" cy="223" r="1.05" fill="#1a1a1a"/>
<path d="M72.7,82.2 L75.2,84.7 L72.7,87.2 L70.2,84.7 Z" fill="#1a1a1a" stroke="none" stroke-width="0"/>
<path d="M74,137.9 L76.5,140.4 L74,142.9 L71.5,140.4 Z" fill="#1a1a1a" stroke="none" stroke-width="0"/>
<path d="M72.9,215.0 L75.4,217.5 L72.9,220.0 L70.4,217.5 Z" fill="#1a1a1a" stroke="none" stroke-width="0"/>
<path d="M205.1,142.1 L207.6,144.6 L205.1,147.1 L202.6,144.6 Z" fill="#1a1a1a" stroke="none" stroke-width="0"/>
<path d="M205.1,155.9 L207.6,158.4 L205.1,160.9 L202.6,158.4 Z" fill="#1a1a1a" stroke="none" stroke-width="0"/>
<path d="M202.8,208.5 L205.3,211 L202.8,213.5 L200.3,211 Z" fill="#1a1a1a" stroke="none" stroke-width="0"/>
<path d="M396.2,105.5 L398.7,108 L396.2,110.5 L393.7,108 Z" fill="#1a1a1a" stroke="none" stroke-width="0"/>
<path d="M397.5,167.3 L400.0,169.8 L397.5,172.3 L395.0,169.8 Z" fill="#1a1a1a" stroke="none" stroke-width="0"/>
<path d="M525.8,95.0 L528.3,97.5 L525.8,100.0 L523.3,97.5 Z" fill="#1a1a1a" stroke="none" stroke-width="0"/>
<path d="M525.6,162.7 L528.1,165.2 L525.6,167.7 L523.1,165.2 Z" fill="#1a1a1a" stroke="none" stroke-width="0"/>
<rect x="95.69999999999999" y="74.1" width="3.8" height="3.8" fill="none" stroke="#555" stroke-width="1.0"/>
<rect x="95.69999999999999" y="200.29999999999998" width="3.8" height="3.8" fill="none" stroke="#555" stroke-width="1.0"/>
<path d="M105.5,79.675 L110.5,79.675 L108.0,84.3 Z" fill="none" stroke="#3a3a3a" stroke-width="1.0" stroke-linejoin="miter"/>
<path d="M105.3,156.075 L110.3,156.075 L107.8,160.7 Z" fill="none" stroke="#3a3a3a" stroke-width="1.0" stroke-linejoin="miter"/>
<path d="M106.1,208.075 L111.1,208.075 L108.6,212.7 Z" fill="none" stroke="#3a3a3a" stroke-width="1.0" stroke-linejoin="miter"/>
<path d="M426.7,213.175 L431.7,213.175 L429.2,217.8 Z" fill="none" stroke="#3a3a3a" stroke-width="1.0" stroke-linejoin="miter"/>
<path d="M158.5,60.199999999999996 L161.1,64.88 L155.9,64.88 Z" fill="#1a1a1a"/>
<path d="M159.6,100.0 L162.2,104.67999999999999 L157.0,104.67999999999999 Z" fill="#1a1a1a"/>
<path d="M159.5,168.6 L162.1,173.28 L156.9,173.28 Z" fill="#1a1a1a"/>
<path d="M211,97.19999999999999 L213.4,99.6 L211,102.0 L208.6,99.6 Z" fill="none" stroke="#555" stroke-width="0.95"/>
<path d="M219.5,89.89999999999999 L221.9,92.3 L219.5,94.7 L217.1,92.3 Z" fill="none" stroke="#555" stroke-width="0.95"/>
<path d="M223.3,82.89999999999999 L225.70000000000002,85.3 L223.3,87.7 L220.9,85.3 Z" fill="none" stroke="#555" stroke-width="0.95"/>
<path d="M225.7,81.0 L228.1,83.4 L225.7,85.80000000000001 L223.29999999999998,83.4 Z" fill="none" stroke="#555" stroke-width="0.95"/>
<path d="M232.4,87.1 L234.8,89.5 L232.4,91.9 L230.0,89.5 Z" fill="none" stroke="#555" stroke-width="0.95"/>
<path d="M236.3,73.8 L238.70000000000002,76.2 L236.3,78.60000000000001 L233.9,76.2 Z" fill="none" stroke="#555" stroke-width="0.95"/>
<path d="M240.2,85.1 L242.6,87.5 L240.2,89.9 L237.79999999999998,87.5 Z" fill="none" stroke="#555" stroke-width="0.95"/>
<path d="M247.7,77.1 L250.1,79.5 L247.7,81.9 L245.29999999999998,79.5 Z" fill="none" stroke="#555" stroke-width="0.95"/>
<path d="M246.8,108.1 L249.20000000000002,110.5 L246.8,112.9 L244.4,110.5 Z" fill="none" stroke="#555" stroke-width="0.95"/>
<path d="M210.5,216.4 L212.9,218.8 L210.5,221.20000000000002 L208.1,218.8 Z" fill="none" stroke="#555" stroke-width="0.95"/>
<path d="M219.3,210.4 L221.70000000000002,212.8 L219.3,215.20000000000002 L216.9,212.8 Z" fill="none" stroke="#555" stroke-width="0.95"/>
<path d="M223.5,206.6 L225.9,209 L223.5,211.4 L221.1,209 Z" fill="none" stroke="#555" stroke-width="0.95"/>
<path d="M225.5,205.79999999999998 L227.9,208.2 L225.5,210.6 L223.1,208.2 Z" fill="none" stroke="#555" stroke-width="0.95"/>
<path d="M232.5,208.1 L234.9,210.5 L232.5,212.9 L230.1,210.5 Z" fill="none" stroke="#555" stroke-width="0.95"/>
<path d="M236,207.1 L238.4,209.5 L236,211.9 L233.6,209.5 Z" fill="none" stroke="#555" stroke-width="0.95"/>
<path d="M240.5,206.79999999999998 L242.9,209.2 L240.5,211.6 L238.1,209.2 Z" fill="none" stroke="#555" stroke-width="0.95"/>
<path d="M247,202.29999999999998 L249.4,204.7 L247,207.1 L244.6,204.7 Z" fill="none" stroke="#555" stroke-width="0.95"/>
<circle cx="223.9" cy="118.7" r="2.0" fill="none" stroke="#555" stroke-width="0.9"/>
<circle cx="219.1" cy="166.7" r="2.0" fill="none" stroke="#555" stroke-width="0.9"/>
<circle cx="224.6" cy="166.4" r="2.0" fill="none" stroke="#555" stroke-width="0.9"/>
<circle cx="246.9" cy="166.4" r="2.0" fill="none" stroke="#555" stroke-width="0.9"/>
<circle cx="215.8" cy="94.9" r="1.7" fill="#1a1a1a"/>
<circle cx="216.9" cy="167.3" r="1.7" fill="#1a1a1a"/>
<circle cx="216.5" cy="218" r="1.7" fill="#1a1a1a"/>
<rect x="265.1" y="107.3" width="3.4" height="3.4" fill="#1a1a1a"/>
<rect x="265.6" y="162.10000000000002" width="3.4" height="3.4" fill="#1a1a1a"/>
<rect x="265.6" y="218.3" width="3.4" height="3.4" fill="#1a1a1a"/>
<text x="196.8" y="210.5" font-size="8.5" text-anchor="middle" font-weight="bold">#</text>
</svg></body></html>
